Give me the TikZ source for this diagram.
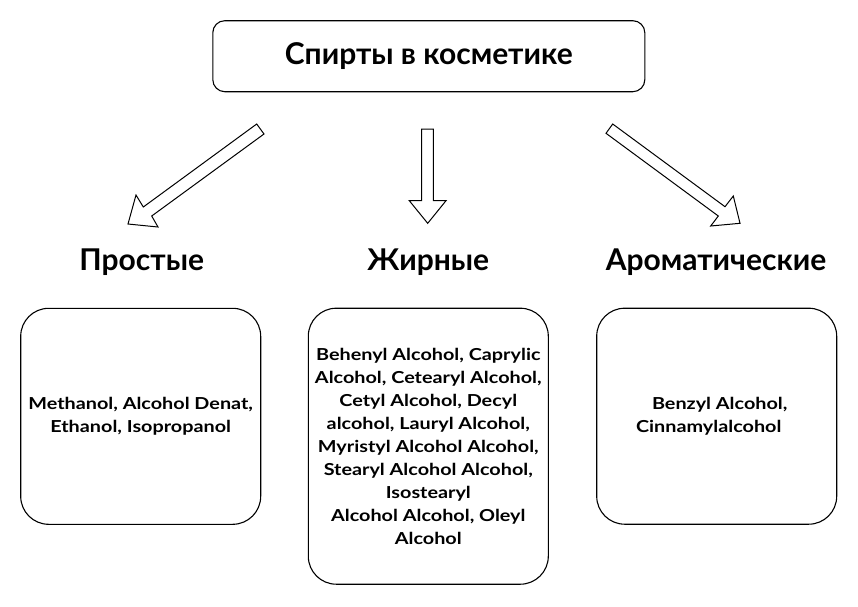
\documentclass[tikz,border=0pt]{standalone}
\usepackage{fontspec}
\setmainfont{Lato}
\newfontfamily\bodyfont{Lato}[FakeStretch=1.2]
\begin{document}
\begin{tikzpicture}[x=1pt,y=-1pt,
  box/.style={draw=black, line width=1.1pt, rounded corners=28pt, fill=white,
    align=center, inner sep=0pt, font=\bodyfont\bfseries\fontsize{16.5}{23}\selectfont},
  titlebox/.style={draw=black, line width=1.1pt, rounded corners=12pt, fill=white,
    align=center, inner sep=0pt, font=\bfseries\fontsize{30}{34}\selectfont},
  catlabel/.style={inner sep=0pt, font=\bfseries\fontsize{30}{34}\selectfont},
  blockarrow/.style={draw=black, line width=1pt, fill=white, line join=miter}]
\useasboundingbox[fill=white] (0,0) rectangle (858,606);

\node[titlebox, minimum width=432pt, minimum height=71pt] (title) at (428.8,56.2) {Спирты в косметике};

\node[catlabel] (simple) at (141.7,262.5) {Простые};
\node[catlabel] (fatty) at (428.3,262.5) {Жирные};
\node[catlabel] (arom) at (716,262.5) {Ароматические};

\node[box, minimum width=240pt, minimum height=216pt] (simplebox) at (140.7,416.3)
  {Methanol, Alcohol Denat,\\Ethanol, Isopropanol};
\node[box, minimum width=240pt, minimum height=276pt] (fattybox) at (428.3,446.2)
  {Behenyl Alcohol, Caprylic\\Alcohol, Cetearyl Alcohol,\\Cetyl Alcohol, Decyl\\alcohol, Lauryl Alcohol,\\Myristyl Alcohol Alcohol,\\Stearyl Alcohol Alcohol,\\Isostearyl\\Alcohol Alcohol, Oleyl\\Alcohol};
\node[box, minimum width=240pt, minimum height=216pt] (arombox) at (716.7,416.2)
  {\hspace*{6pt}Benzyl Alcohol,\\Cinnamylalcohol\hspace*{16pt}};

% block arrows
\draw[blockarrow] (256.7,124) -- (264,134) -- (151.7,216) -- (158,227) -- (128,224)
  -- (136,195) -- (143.3,207) -- cycle;
\draw[blockarrow] (421.7,129) -- (433.3,129) -- (433.3,200.7) -- (446,200.7)
  -- (427.7,223.3) -- (409.3,200.7) -- (421.7,200.7) -- cycle;
\draw[blockarrow] (612.7,124) -- (725,206.7) -- (733.3,196) -- (740,223.3)
  -- (710.7,226) -- (718.3,216) -- (606,133.3) -- cycle;
\end{tikzpicture}
\end{document}
